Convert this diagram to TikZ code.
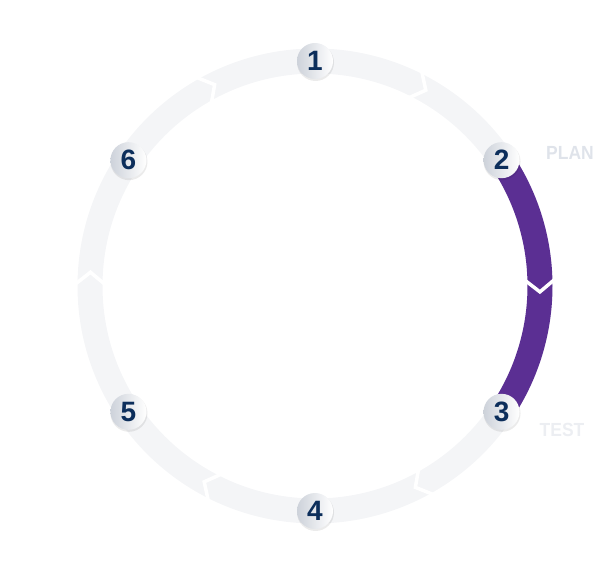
\documentclass[tikz,border=0pt]{standalone}
\usepackage{fontspec}
\setmainfont{Liberation Sans}
\definecolor{ringgray}{HTML}{F4F5F7}
\definecolor{purp}{HTML}{5B2F93}
\definecolor{navy}{HTML}{0C2E5B}
\definecolor{lblplan}{HTML}{DFE3EA}
\definecolor{lbltest}{HTML}{ECEEF2}
\definecolor{nodegray}{HTML}{CDD2DA}
\begin{document}
\begin{tikzpicture}[x=1pt,y=1pt,
  numnode/.style={circle, minimum size=36pt, inner sep=0pt, left color=nodegray, right color=white,
    font=\fontsize{28}{28}\selectfont\bfseries, text=navy},
  shadowdot/.style={circle, minimum size=37pt, inner sep=0pt, fill=black, opacity=0.08},
  chev/.style={white, line width=3.5pt, line join=miter},
  lblnode/.style={font=\fontsize{19}{19}\selectfont\bfseries}
]
\useasboundingbox (0,0) rectangle (594,575);
\begin{scope}[shift={(315,289)}]
  \draw[ringgray, line width=25pt] (0,0) circle (225);
  \draw[purp, line width=25pt] (34:225) arc (34:-34:225);
  \foreach \a in {62,0,-62,-118,178,118}
    \draw[chev] (\a+1.9:208.5) -- (\a-1.5:225) -- (\a+1.9:241.5);
  \foreach \i/\a in {1/90,2/34,3/-34,4/-90,5/-146,6/146} {
    \node[shadowdot] at ([shift={(0.5,-1.5)}]\a:225) {};
    \node[numnode] (n\i) at (\a:225) {\i};
  }
\end{scope}
\node[lblnode, text=lblplan, xscale=0.92] (plan) at (570,422) {PLAN};
\node[lblnode, text=lbltest, xscale=0.92] (test) at (562,145) {TEST};
\end{tikzpicture}
\end{document}
